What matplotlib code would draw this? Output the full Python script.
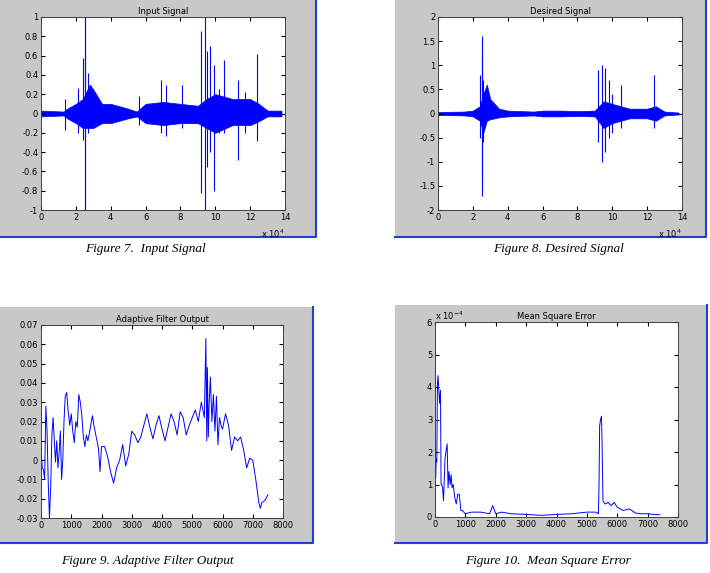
import numpy as np
import matplotlib.pyplot as plt
from matplotlib.patches import Rectangle
from matplotlib.lines import Line2D

# input signal: band envelope (x in 1e4 samples) and isolated spikes
in_x = [0, 1.3, 1.5, 2.0, 2.4, 2.8, 3.0, 3.5, 4.0, 5.0, 5.5, 6.0, 7.0, 8.0, 9.0, 9.5, 10.0, 11.0, 12.0, 12.5, 13.0, 13.8]
in_hi = [0.03, 0.02, 0.05, 0.1, 0.15, 0.3, 0.25, 0.1, 0.1, 0.05, 0.02, 0.1, 0.12, 0.1, 0.08, 0.15, 0.2, 0.15, 0.15, 0.1, 0.03, 0.03]
in_lo = [-0.03, -0.02, -0.05, -0.1, -0.15, -0.15, -0.15, -0.1, -0.1, -0.05, -0.03, -0.1, -0.12, -0.1, -0.1, -0.15, -0.2, -0.12, -0.12, -0.08, -0.03, -0.03]
in_spk_x = [1.4, 2.1, 2.4, 2.5, 2.55, 2.7, 5.6, 6.9, 7.2, 8.1, 9.2, 9.4, 9.55, 9.7, 9.9, 10.2, 10.5, 11.3, 11.7, 12.4]
in_spk_hi = [0.15, 0.26, 0.58, 1.0, 1.0, 0.42, 0.18, 0.35, 0.3, 0.3, 0.85, 1.0, 0.65, 0.7, 0.5, 0.25, 0.55, 0.35, 0.22, 0.62]
in_spk_lo = [-0.17, -0.2, -0.27, -1.0, -1.0, -0.2, -0.12, -0.2, -0.23, -0.15, -0.82, -1.0, -0.55, -0.4, -0.8, -0.2, -0.2, -0.48, -0.2, -0.28]

# desired signal
de_x = [0, 1.5, 2.0, 2.4, 2.6, 2.8, 3.0, 3.5, 4.0, 5.5, 6.0, 7.0, 8.0, 9.0, 9.5, 10.0, 11.0, 12.0, 12.5, 13.0, 13.8]
de_hi = [0.03, 0.04, 0.06, 0.15, 0.4, 0.6, 0.3, 0.1, 0.06, 0.04, 0.06, 0.06, 0.05, 0.06, 0.25, 0.2, 0.1, 0.1, 0.15, 0.04, 0.02]
de_lo = [-0.03, -0.04, -0.06, -0.15, -0.4, -0.15, -0.12, -0.08, -0.06, -0.04, -0.06, -0.06, -0.05, -0.06, -0.3, -0.2, -0.1, -0.1, -0.15, -0.04, -0.02]
de_spk_x = [2.4, 2.5, 2.55, 2.6, 9.2, 9.4, 9.6, 9.8, 10.0, 10.5, 12.4]
de_spk_hi = [0.8, 1.6, 1.2, 0.7, 0.9, 1.0, 0.95, 0.7, 0.4, 0.6, 0.8]
de_spk_lo = [-0.5, -1.7, -1.4, -0.6, -0.6, -1.0, -0.8, -0.5, -0.4, -0.3, -0.3]

# adaptive filter output
afo_x = [0, 40, 80, 120, 160, 200, 240, 280, 320, 360, 400, 440, 480, 520, 560, 600, 640, 680, 720, 760,
         800, 850, 900, 950, 1000, 1050, 1100, 1150, 1200, 1250, 1300, 1350, 1400, 1450, 1500, 1550, 1600, 1700,
         1750, 1800, 1900, 1950, 2000, 2100, 2200, 2300, 2400, 2500, 2600, 2700, 2800, 2900, 3000, 3100, 3200,
         3300, 3400, 3500, 3600, 3700, 3800, 3900, 4000, 4100, 4200, 4300, 4400, 4500, 4600, 4700, 4800, 4900,
         5000, 5100, 5200, 5300, 5400, 5450, 5480, 5500, 5530, 5560, 5600, 5650, 5700, 5750, 5800, 5850, 5900,
         5950, 6000, 6100, 6200, 6300, 6400, 6500, 6600, 6700, 6800, 6900, 7000, 7100, 7200, 7250, 7300, 7400, 7500]
afo_y = [0.007, -0.004, -0.005, -0.01, 0.028, 0.015, -0.012, -0.03, -0.014, 0.013, 0.022, 0.01, -0.001, 0.01,
         -0.004, 0.004, 0.015, -0.01, 0.0, 0.02, 0.033, 0.035, 0.025, 0.018, 0.024, 0.015, 0.009, 0.02, 0.017,
         0.034, 0.03, 0.023, 0.012, 0.007, 0.013, 0.01, 0.014, 0.023, 0.018, 0.014, 0.006, -0.006, 0.007, 0.007,
         0.002, -0.006, -0.012, -0.004, 0.0, 0.008, -0.003, 0.003, 0.015, 0.013, 0.009, 0.012, 0.018, 0.024,
         0.017, 0.011, 0.018, 0.023, 0.016, 0.01, 0.017, 0.024, 0.02, 0.013, 0.025, 0.022, 0.013, 0.018, 0.022,
         0.026, 0.02, 0.03, 0.022, 0.063, 0.01, 0.048, 0.012, 0.03, 0.043, 0.02, 0.034, 0.015, 0.033, 0.008,
         0.022, 0.018, 0.016, 0.024, 0.018, 0.005, 0.012, 0.01, 0.012, 0.005, -0.004, 0.001, 0.0, -0.01, -0.022,
         -0.025, -0.022, -0.021, -0.018]

# mean square error (x1e-4)
mse_x = [0, 20, 40, 60, 80, 100, 120, 150, 180, 200, 220, 250, 280, 300, 330, 360, 400, 430, 460, 500, 530,
         560, 600, 650, 700, 750, 800, 850, 900, 1000, 1200, 1500, 1800, 1900, 2000, 2200, 2500, 3000, 3500,
         4000, 4500, 5000, 5300, 5380, 5400, 5420, 5450, 5480, 5500, 5530, 5600, 5700, 5800, 5900, 6000, 6200,
         6400, 6600, 6800, 7000, 7200, 7400]
mse_y = [6.0, 1.2, 1.8, 1.7, 4.1, 4.35, 4.0, 3.5, 3.9, 1.0, 1.0, 0.9, 0.5, 1.0, 1.8, 2.0, 2.25, 0.9, 1.4, 1.0,
         1.3, 0.9, 1.0, 0.6, 0.4, 0.7, 0.7, 0.2, 0.2, 0.1, 0.15, 0.15, 0.1, 0.35, 0.1, 0.15, 0.1, 0.08, 0.05,
         0.08, 0.1, 0.15, 0.15, 0.1, 1.0, 2.8, 3.0, 3.1, 2.3, 0.5, 0.4, 0.45, 0.35, 0.45, 0.3, 0.2, 0.25, 0.12,
         0.1, 0.1, 0.08, 0.07]

W, H = 710, 573
fig = plt.figure(figsize=(7.1, 5.73), dpi=100)
fig.patch.set_facecolor('white')

def px(x0, y0, x1, y1):
    return [x0 / W, 1 - y1 / H, (x1 - x0) / W, (y1 - y0) / H]

# grey window frames with a blue right and bottom edge
frames = [(0, 0, 316, 237), (395, 0, 706, 237), (0, 307, 313, 543), (395, 305, 707, 543)]
for f in frames:
    r = px(*f)
    fig.patches.append(Rectangle((r[0], r[1]), r[2], r[3], transform=fig.transFigure,
                                 facecolor='#c8c8c8', edgecolor='none', zorder=-10))
    fig.lines.append(Line2D([r[0], r[0] + r[2], r[0] + r[2]], [r[1], r[1], r[1] + r[3]],
                            transform=fig.transFigure, color='#2040d0', lw=1.5, zorder=-9))

blue = '#0000ff'

def style(ax, title):
    ax.set_title(title, fontsize=6, pad=2)
    ax.tick_params(labelsize=6, direction='in', length=3, top=True, right=True, pad=2)
    for s in ax.spines.values():
        s.set_color('#404040')
        s.set_linewidth(0.7)

ax1 = fig.add_axes(px(41, 17, 285, 210))
ax1.fill_between(in_x, in_lo, in_hi, color=blue, lw=0.5)
ax1.vlines(in_spk_x, in_spk_lo, in_spk_hi, color=blue, lw=0.8)
ax1.set_xlim(0, 14); ax1.set_ylim(-1, 1)
ax1.set_xticks(range(0, 15, 2)); ax1.set_yticks(np.arange(-1, 1.01, 0.2))
ax1.set_yticklabels(['-1', '-0.8', '-0.6', '-0.4', '-0.2', '0', '0.2', '0.4', '0.6', '0.8', '1'])
style(ax1, 'Input Signal')
ax1.text(1.0, -0.09, r'x 10$^4$', transform=ax1.transAxes, fontsize=6, ha='right', va='top')

ax2 = fig.add_axes(px(438, 17, 682, 210))
ax2.fill_between(de_x, de_lo, de_hi, color=blue, lw=0.5)
ax2.vlines(de_spk_x, de_spk_lo, de_spk_hi, color=blue, lw=0.8)
ax2.set_xlim(0, 14); ax2.set_ylim(-2, 2)
ax2.set_xticks(range(0, 15, 2)); ax2.set_yticks(np.arange(-2, 2.01, 0.5))
ax2.set_yticklabels(['-2', '-1.5', '-1', '-0.5', '0', '0.5', '1', '1.5', '2'])
style(ax2, 'Desired Signal')
ax2.text(1.0, -0.09, r'x 10$^4$', transform=ax2.transAxes, fontsize=6, ha='right', va='top')

n = min(len(afo_x), len(afo_y))
ax3 = fig.add_axes(px(41, 325, 283, 518))
ax3.plot(afo_x[:n], afo_y[:n], color=blue, lw=0.7)
ax3.set_xlim(0, 8000); ax3.set_ylim(-0.03, 0.07)
ax3.set_xticks(range(0, 8001, 1000)); ax3.set_yticks(np.arange(-0.03, 0.0701, 0.01))
ax3.set_yticklabels(['-0.03', '-0.02', '-0.01', '0', '0.01', '0.02', '0.03', '0.04', '0.05', '0.06', '0.07'])
style(ax3, 'Adaptive Filter Output')

m = min(len(mse_x), len(mse_y))
ax4 = fig.add_axes(px(435, 322, 678, 517))
ax4.plot(mse_x[:m], mse_y[:m], color=blue, lw=0.7)
ax4.set_xlim(0, 8000); ax4.set_ylim(0, 6)
ax4.set_xticks(range(0, 8001, 1000)); ax4.set_yticks(range(0, 7))
style(ax4, 'Mean Square Error')
ax4.text(0.0, 1.0, r'x 10$^{-4}$', transform=ax4.transAxes, fontsize=6, ha='left', va='bottom')

cap = dict(fontsize=9.5, style='italic', family='Liberation Serif', ha='center', va='center')
fig.text(145 / W, 1 - 249 / H, 'Figure 7.  Input Signal', **cap)
fig.text(558 / W, 1 - 249 / H, 'Figure 8. Desired Signal', **cap)
fig.text(147 / W, 1 - 561 / H, 'Figure 9. Adaptive Filter Output', **cap)
fig.text(548 / W, 1 - 561 / H, 'Figure 10.  Mean Square Error', **cap)

fig.savefig('out.png', dpi=100)
